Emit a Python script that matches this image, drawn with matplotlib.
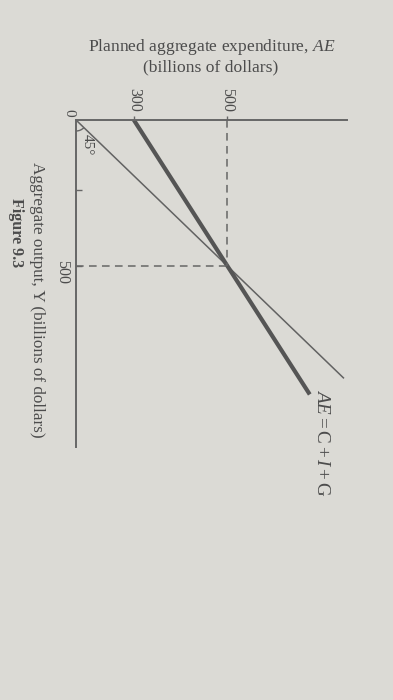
import numpy as np
import matplotlib
matplotlib.use("Agg")
import matplotlib.pyplot as plt
from matplotlib.patches import Arc
import matplotlib.transforms as mtransforms

plt.rcParams['font.family'] = ['Liberation Serif', 'DejaVu Serif']
plt.rcParams['mathtext.fontset'] = 'custom'
plt.rcParams['mathtext.rm'] = 'Liberation Serif'
plt.rcParams['mathtext.it'] = 'Liberation Serif:italic'

# ---- data (billions of dollars) ----
ae_ticks = [300, 500]
ae_tick_labels = ['300', '500']
y_ticks = [240, 500]
y_tick_labels = ['', '500']
equilibrium = 500
# 45-degree line (AE = Y)
line45_y = [0, 885]
line45_ae = [0, 885]
# AE = C + I + G (drawn not to scale, as in the textbook figure)
ae_line_y = [0, 940]
ae_line_ae = [300, 772]

# Piecewise (not-to-scale) AE axis, as in the printed figure
knots_data = [-1e4, 0, 300, 500, 1e4]
knots_draw = [-1e4, 0, 191, 500, 1e4]
fwd = lambda v: np.interp(v, knots_data, knots_draw)
inv = lambda v: np.interp(v, knots_draw, knots_data)

W, H = 393, 700
fig = plt.figure(figsize=(W / 100, H / 100), dpi=100)
bg = '#dbdad5'
fig.patch.set_facecolor(bg)
ink = '#4c4c4c'

left, top, right, bottom = 76, 120, 347, 447
ax = fig.add_axes([left / W, 1 - bottom / H, (right - left) / W, (bottom - top) / H])
ax.set_facecolor('none')
ax.set_xscale('function', functions=(fwd, inv))
ax.set_xlim(0, 895)
ax.set_ylim(1120, 0)

for s in ['right', 'bottom']:
    ax.spines[s].set_visible(False)
for s in ['top', 'left']:
    ax.spines[s].set_color('#666666')
    ax.spines[s].set_linewidth(1.4)

# lines
ax.plot(line45_ae, line45_y, color='#626262', lw=1.1, solid_capstyle='butt')
ax.plot(ae_line_ae, ae_line_y, color='#555555', lw=3.0, solid_capstyle='butt')
ax.plot([equilibrium, equilibrium], [0, equilibrium], color='#666666', lw=1.1,
        dashes=(5, 3.5))
ax.plot([0, equilibrium], [equilibrium, equilibrium], color='#666666', lw=1.1,
        dashes=(5, 3.5))

# ticks
ax.xaxis.tick_top()
ax.set_xticks(ae_ticks, ae_tick_labels)
ax.set_xticks([], minor=True)
ax.tick_params(axis='x', which='major', direction='out', length=3, width=1,
               color='#666666', labelrotation=-90, labelsize=11.5,
               labelcolor=ink, pad=3)
ax.set_yticks(y_ticks, y_tick_labels)
ax.tick_params(axis='y', direction='in', length=4, width=1, color='#666666',
               labelrotation=-90, labelsize=11.5, labelcolor=ink, pad=4)

ax.annotate('0', xy=(0, 0), xytext=(-1, 3), textcoords='offset pixels',
            ha='right', va='bottom', rotation=-90, fontsize=11, color=ink)

# 45 degree arc
fig.canvas.draw()
cx, cy = ax.transData.transform((0, 0))
arc = Arc((cx, cy), 22, 22, theta1=-90, theta2=-44, transform=mtransforms.IdentityTransform(),
          color='#666666', lw=1.0)
fig.add_artist(arc)
ax.annotate('45°', xy=(0, 0), xytext=(5, -14), textcoords='offset pixels',
            ha='left', va='top', rotation=-90, fontsize=11, color=ink)

# AE label
ax.annotate(r'$AE = \mathrm{C} + I + \mathrm{G}$', xy=(ae_line_ae[1], ae_line_y[1]),
            xytext=(3, 5), textcoords='offset pixels', ha='left', va='top',
            rotation=-90, fontsize=13.8, color=ink)

# axis labels
ax.set_ylabel('Aggregate output, Y (billions of dollars)', rotation=-90,
              fontsize=12.3, color=ink, ha='center', va='center')
ax.yaxis.set_label_coords((37 - left) / (right - left), 1 - (300 - top) / (bottom - top))
fig.text(16 / W, 1 - 233 / H, 'Figure 9.3', rotation=-90, fontsize=11.5,
         fontweight='bold', color=ink, ha='center', va='center')

fig.text(212 / W, 1 - 47 / H, r'Planned aggregate expenditure, $AE$', fontsize=12.6,
         color=ink, ha='center', va='center')
fig.text(211 / W, 1 - 67.5 / H, '(billions of dollars)', fontsize=12.6,
         color=ink, ha='center', va='center')

fig.savefig('out.png', dpi=100, facecolor=bg)
